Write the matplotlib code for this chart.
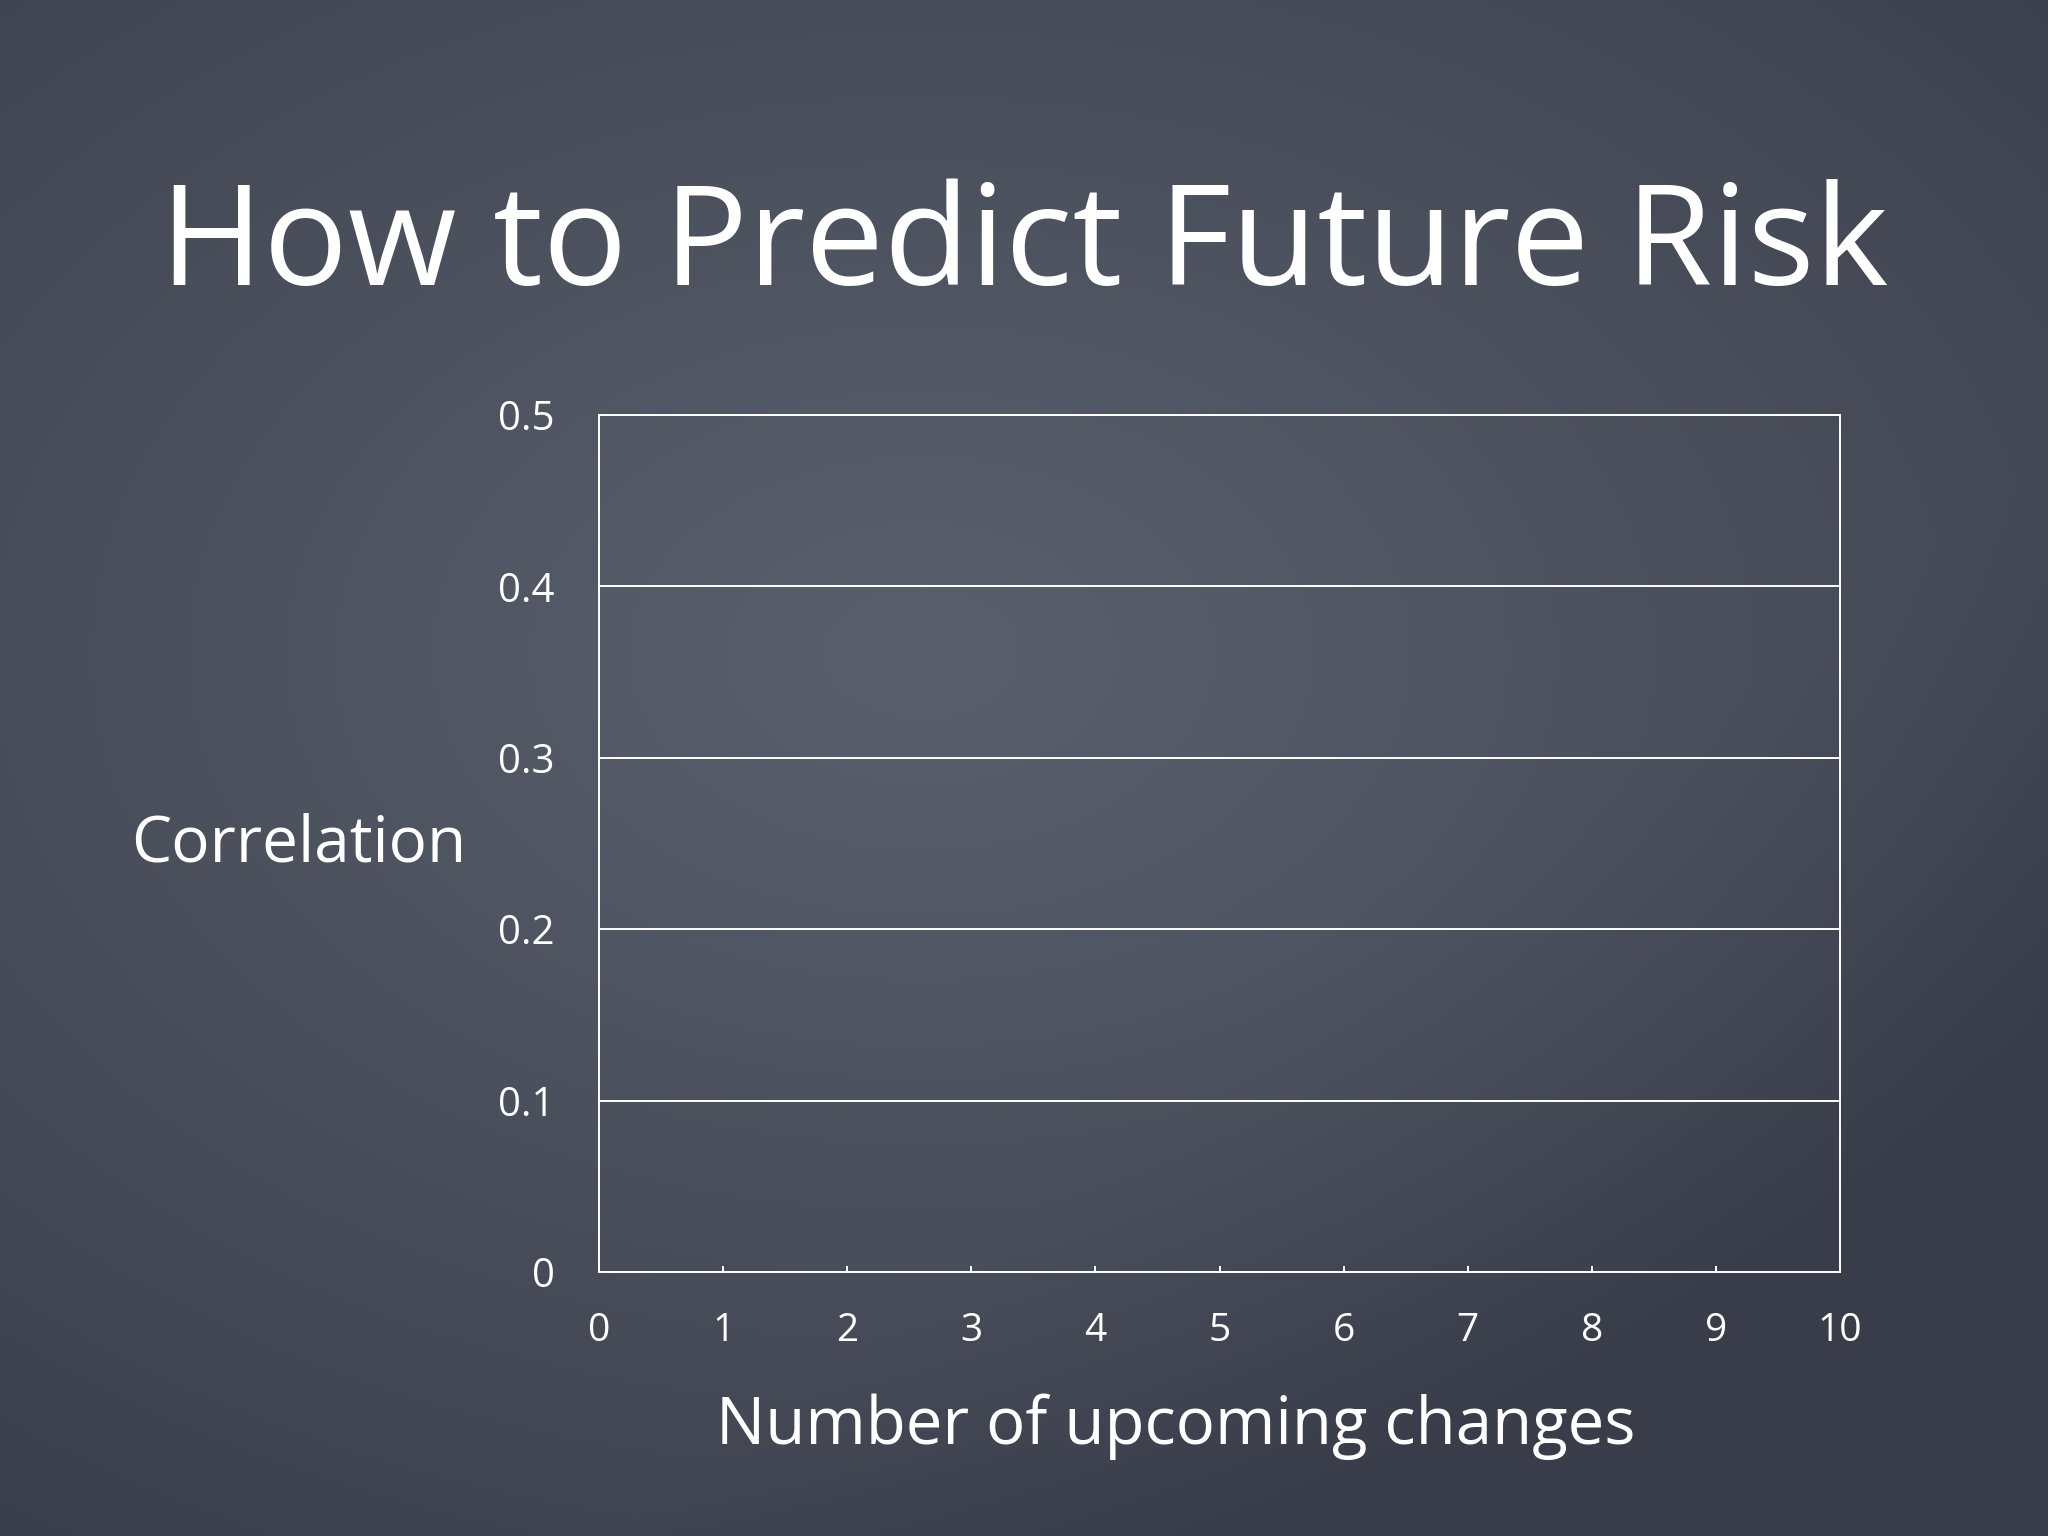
import numpy as np
import matplotlib
matplotlib.use("Agg")
import matplotlib.pyplot as plt

# chart content (the slide shows an empty chart frame)
title = "How to Predict Future Risk"
x_label = "Number of upcoming changes"
y_label = "Correlation"
x_ticks = [0, 1, 2, 3, 4, 5, 6, 7, 8, 9, 10]
x_tick_labels = ["0", "1", "2", "3", "4", "5", "6", "7", "8", "9", "10"]
y_ticks = [0, 0.1, 0.2, 0.3, 0.4, 0.5]
y_tick_labels = ["0", "0.1", "0.2", "0.3", "0.4", "0.5"]

font = "Open Sans"
chalk = "white"

fig = plt.figure(figsize=(20.48, 15.36), dpi=100)

# chalkboard background: lighter centre, darker corners
bg = fig.add_axes([0, 0, 1, 1], zorder=-10)
gx, gy = np.meshgrid(np.linspace(-1, 1, 256), np.linspace(-1, 1, 192))
r = np.sqrt((gx + 0.1) ** 2 * 0.8 + (gy + 0.15) ** 2)
shade = np.clip(r / 1.5, 0, 1) + np.clip(gx + gy - 0.6, 0, 1) * 0.35
c_center = np.array([0x5b, 0x60, 0x6e]) / 255
c_edge = np.array([0x39, 0x3d, 0x49]) / 255
img = c_center + (c_edge - c_center) * np.clip(shade, 0, 1)[..., None]
bg.imshow(img, extent=[0, 1, 0, 1], aspect="auto", origin="upper")
bg.axis("off")

ax = fig.add_axes([0.2925, 0.1719, 0.606, 0.558])
ax.patch.set_alpha(0)
ax.set_xlim(x_ticks[0], x_ticks[-1])
ax.set_ylim(y_ticks[0], y_ticks[-1])
ax.set_xticks(x_ticks)
ax.set_xticklabels(x_tick_labels, fontsize=28, color=chalk, family=font)
ax.set_yticks(y_ticks)
ax.set_yticklabels(y_tick_labels, fontsize=29, color=chalk, family=font)
ax.tick_params(axis="x", direction="in", length=4, width=1.4, color=chalk, pad=29)
ax.tick_params(axis="y", length=0, pad=32)
ax.grid(axis="y", color=chalk, linewidth=1.4)
for s in ax.spines.values():
    s.set_color(chalk)
    s.set_linewidth(1.4)

fig.text(0.5, 0.838, title, ha="center", va="center", fontsize=101,
         color=chalk, family=font)
fig.text(466 / 2048, 0.450, y_label, ha="right", va="center", fontsize=46,
         color=chalk, family=font)
fig.text(1176 / 2048, 0.071, x_label, ha="center", va="center", fontsize=47,
         color=chalk, family=font)

fig.savefig("out.png", dpi=100)
